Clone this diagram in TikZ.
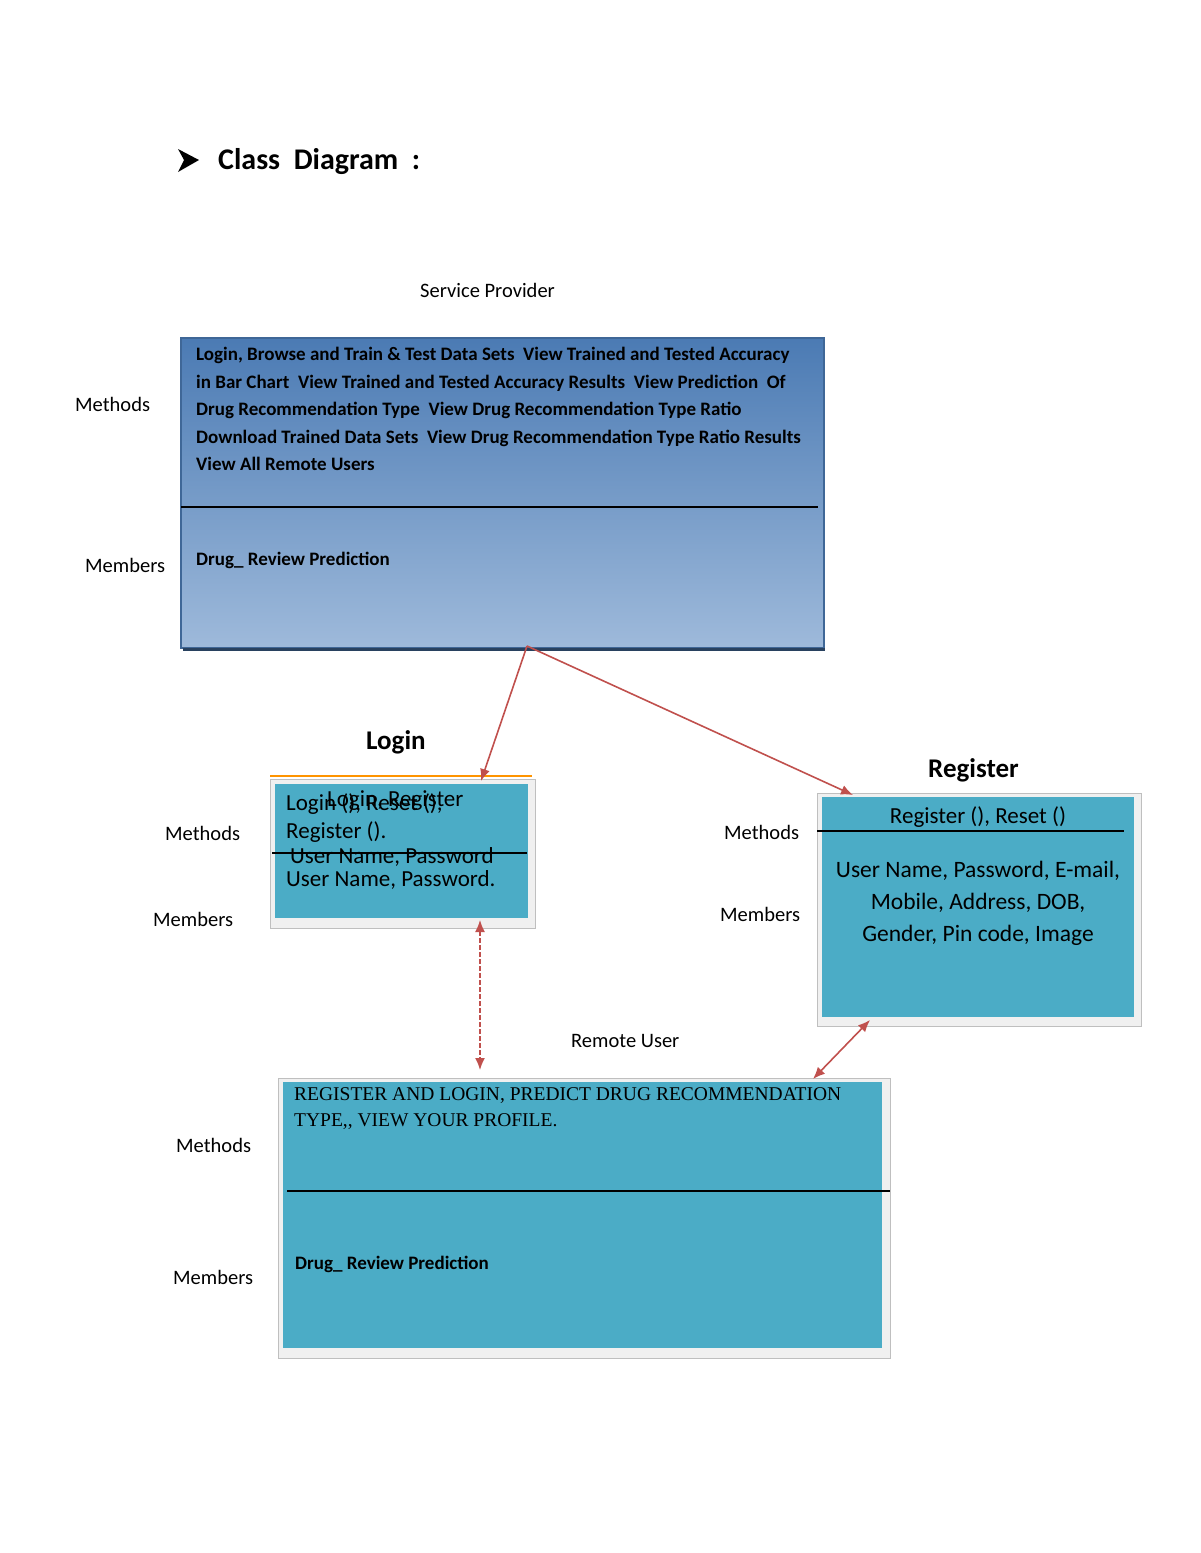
\documentclass[tikz,border=0pt]{standalone}
\usepackage{fontspec}
\setmainfont{Carlito}
\newfontfamily\serifx{Liberation Serif}
\usetikzlibrary{arrows.meta}
\definecolor{cy}{HTML}{4BACC6}
\definecolor{ar}{HTML}{C0504D}
\definecolor{bd}{HTML}{4F81BD}
\tikzset{lbl/.style={font=\fontsize{20.5}{22}\selectfont,anchor=west,inner sep=0},
 txt/.style={font=\fontsize{19}{27.5}\selectfont\bfseries,anchor=north west,align=left,inner sep=0},
 frame/.style={fill=black!6,draw=black!25},
 bx/.style={anchor=west,inner sep=0,font=\fontsize{23}{26}\selectfont},
 conn/.style={draw=ar,line width=1.6pt,-{Latex[length=12pt,width=10pt]}}}
\begin{document}
\begin{tikzpicture}[x=1pt,y=-1pt]
\useasboundingbox (0,0) rectangle (1200,1553);
\fill (178,149) -- (199,160) -- (178,172) -- (184,160) -- cycle;
\node[anchor=west,inner sep=0,font=\fontsize{30}{34}\selectfont\bfseries] (title) at (218,162) {Class\ \ Diagram\ \ :};
\node[lbl] (sp) at (420,290) {Service Provider};
% service provider
\shade[top color=bd!95!black,middle color=bd,bottom color=bd!55!white,draw=bd!80!black,line width=1.5pt] (181,338) rectangle (824,648);
\draw[line width=3pt,bd!50!black] (183,649) -- (825,649);
\draw[line width=1.5pt] (181,507) -- (818,507);
\node[txt] (spm) at (196,347) {Login, Browse and Train \& Test Data Sets\ \ View Trained and Tested Accuracy\\in Bar Chart\ \ View Trained and Tested Accuracy Results\ \ View Prediction\ \ Of\\Drug Recommendation Type\ \ View Drug Recommendation Type Ratio\\Download Trained Data Sets\ \ View Drug Recommendation Type Ratio Results\\View All Remote Users};
\node[txt] (spb) at (196,552) {Drug\_ Review Prediction};
\node[lbl] at (75,404) {Methods};
\node[lbl] at (85,565) {Members};
\coordinate (sptop) at (527,646);
% login
\node[anchor=west,inner sep=0,font=\fontsize{27}{30}\selectfont\bfseries] at (366,742) {Login};
\draw[frame] (270,779) rectangle (535,928);
\fill[cy] (275,784) rectangle (528,918);
\draw[orange!80!red!70!yellow,line width=2pt] (270,776) -- (532,776);
\coordinate (lgtop) at (481,781);
\coordinate (lgbot) at (480,920);
\node[bx] at (286,804) {Login (), Reset (),};
\node[bx] at (327,801) {Login, Register};
\node[bx] at (286,832) {Register ().};
\node[bx] at (290,857) {User Name, Password};
\node[bx] at (286,880) {User Name, Password.};
\draw[line width=1.5pt] (272,853) -- (527,853);
\node[lbl] at (165,833) {Methods};
\node[lbl] at (153,919) {Members};
% register
\node[anchor=west,inner sep=0,font=\fontsize{27}{30}\selectfont\bfseries] at (928,770) {Register};
\draw[frame] (817,793) rectangle (1141,1026);
\fill[cy] (822,797) rectangle (1134,1017);
\coordinate (rgtop) at (853,795);
\coordinate (rgbot) at (870,1020);
\node[font=\fontsize{23}{26}\selectfont,inner sep=0] at (978,817) {Register (), Reset ()};
\draw[line width=1.5pt] (817,831) -- (1124,831);
\node[font=\fontsize{23.5}{32}\selectfont,align=center,inner sep=0] at (978,903) {User Name, Password, E-mail,\\Mobile, Address, DOB,\\Gender, Pin code, Image};
\node[lbl] at (724,832) {Methods};
\node[lbl] at (720,914) {Members};
% remote user
\node[lbl] at (571,1041) {Remote User};
\draw[frame] (278,1078) rectangle (890,1358);
\fill[cy] (283,1082) rectangle (882,1348);
\coordinate (rutop) at (480,1070);
\coordinate (rutr) at (813,1079);
\node[anchor=north west,align=left,inner sep=0,font=\serifx\fontsize{19.5}{26}\selectfont] at (294,1087) {REGISTER AND LOGIN, PREDICT DRUG RECOMMENDATION\\TYPE,, VIEW YOUR PROFILE.};
\draw[line width=1.5pt] (287,1191) -- (890,1191);
\node[txt] at (295,1256) {Drug\_ Review Prediction};
\node[lbl] at (176,1145) {Methods};
\node[lbl] at (173,1277) {Members};
% connectors
\draw[conn] (sptop) -- (lgtop);
\draw[conn] (sptop) -- (rgtop);
\draw[conn,{Latex[length=12pt,width=10pt]}-{Latex[length=12pt,width=10pt]},dash pattern=on 5pt off 2pt] (lgbot) -- (rutop);
\draw[conn,{Latex[length=12pt,width=10pt]}-{Latex[length=12pt,width=10pt]}] (rgbot) -- (rutr);
\end{tikzpicture}
\end{document}
